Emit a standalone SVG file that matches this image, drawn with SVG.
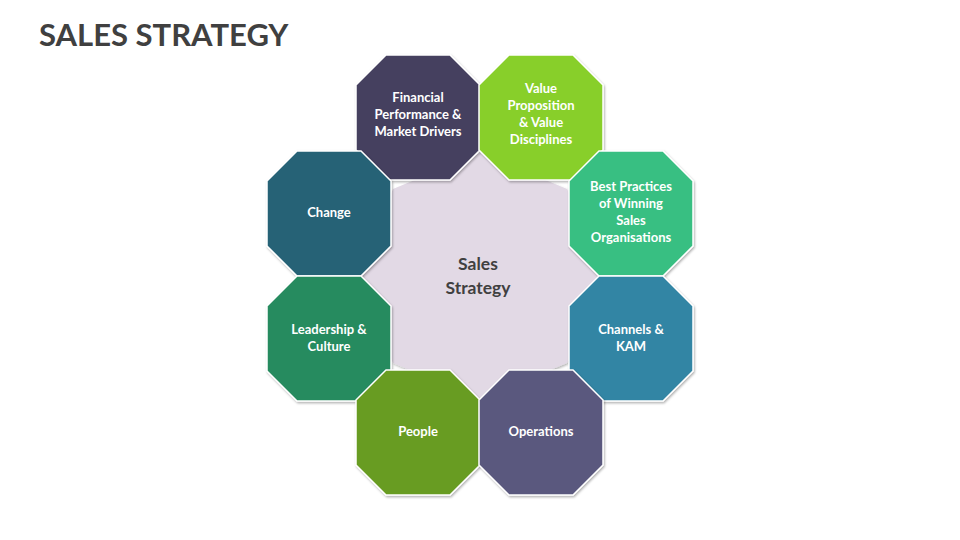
<svg xmlns="http://www.w3.org/2000/svg" xmlns:xlink="http://www.w3.org/1999/xlink" width="960" height="540" viewBox="0 0 960 540">
<style>
.title{font-family:Lato,"Open Sans","Liberation Sans",sans-serif;font-weight:700;font-size:31px;fill:#404040}
.lbl{font-family:Lato,"Open Sans","Liberation Sans",sans-serif;font-weight:700;font-size:13px;fill:#ffffff;text-anchor:middle}
.ctr{font-family:Lato,"Open Sans","Liberation Sans",sans-serif;font-weight:700;font-size:17.5px;fill:#404040;text-anchor:middle}
.oct{stroke:#ffffff;stroke-width:1.5;filter:url(#sh)}
</style>
<defs>
<filter id="sh" x="-10%" y="-10%" width="130%" height="130%">
<feDropShadow dx="1" dy="1.5" stdDeviation="1.2" flood-color="#000000" flood-opacity="0.3"/>
</filter>
<polygon id="o" points="30,0 94,0 124,30 124,95 94,125 30,125 0,95 0,30"/>
</defs>
<rect width="960" height="540" fill="#ffffff"/>
<text class="title" x="39" y="46">SALES STRATEGY</text>
<g id="center">
<polygon points="480,153 567,189 603,276 567,363 480,399 393,363 357,276 393,189" fill="#E2D9E5" filter="url(#sh)"/>
<text class="ctr" x="478" y="270">Sales</text>
<text class="ctr" x="478" y="294">Strategy</text>
</g>
<g id="connectors"></g>
<g id="financial">
<use xlink:href="#o" href="#o" x="356" y="55" class="oct" fill="#44405E"/>
<text class="lbl" x="418" y="101.5">Financial</text>
<text class="lbl" x="418" y="118.5">Performance &amp;</text>
<text class="lbl" x="418" y="135.5">Market Drivers</text>
</g>
<g id="value">
<use xlink:href="#o" href="#o" x="479" y="55" class="oct" fill="#88CF2A"/>
<text class="lbl" x="541" y="92.5">Value</text>
<text class="lbl" x="541" y="109.5">Proposition</text>
<text class="lbl" x="541" y="126.5">&amp; Value</text>
<text class="lbl" x="541" y="143.5">Disciplines</text>
</g>
<g id="change">
<use xlink:href="#o" href="#o" x="267" y="151" class="oct" fill="#266276"/>
<text class="lbl" x="329" y="216.5">Change</text>
</g>
<g id="best-practices">
<use xlink:href="#o" href="#o" x="569" y="151" class="oct" fill="#37BF82"/>
<text class="lbl" x="631" y="190.5">Best Practices</text>
<text class="lbl" x="631" y="207.5">of Winning</text>
<text class="lbl" x="631" y="224.5">Sales</text>
<text class="lbl" x="631" y="241.5">Organisations</text>
</g>
<g id="leadership">
<use xlink:href="#o" href="#o" x="267" y="276" class="oct" fill="#278B5E"/>
<text class="lbl" x="329" y="333.5">Leadership &amp;</text>
<text class="lbl" x="329" y="350.5">Culture</text>
</g>
<g id="channels">
<use xlink:href="#o" href="#o" x="569" y="276" class="oct" fill="#3285A4"/>
<text class="lbl" x="631" y="333.5">Channels &amp;</text>
<text class="lbl" x="631" y="350.5">KAM</text>
</g>
<g id="people">
<use xlink:href="#o" href="#o" x="356" y="370" class="oct" fill="#689C20"/>
<text class="lbl" x="418" y="435.5">People</text>
</g>
<g id="operations">
<use xlink:href="#o" href="#o" x="479" y="370" class="oct" fill="#5A587E"/>
<text class="lbl" x="541" y="435.5">Operations</text>
</g>
</svg>
